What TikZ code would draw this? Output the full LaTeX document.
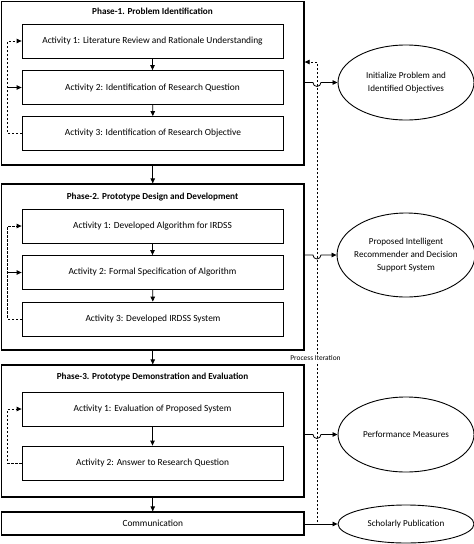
\documentclass[tikz,border=0pt]{standalone}
\usepackage{fontspec}
\setmainfont{Carlito}
\usetikzlibrary{arrows.meta,calc,shapes.geometric}
\begin{document}
\begin{tikzpicture}[x=1pt,y=-1pt,
  phasebox/.style={draw,line width=1.3pt,inner sep=0pt},
  actbox/.style={draw,line width=0.8pt,inner sep=0pt,minimum width=261pt,minimum height=34pt,font=\fontsize{9.4}{11}\selectfont},
  ell/.style={draw,line width=0.9pt,ellipse,inner sep=0pt,minimum width=136pt,align=center,font=\fontsize{9.1}{13.3}\selectfont},
  ttl/.style={font=\bfseries\fontsize{9.2}{11}\selectfont},
  arr/.style={line width=0.8pt,-{Triangle[length=5pt,width=4.5pt]}},
  dashln/.style={line width=0.8pt,dash pattern=on 2.5pt off 1.5pt}
]
\useasboundingbox (0,0) rectangle (474,544);
% phase boxes
\node[phasebox,minimum width=302.5pt,minimum height=163.5pt] (p1) at (152.75,83.25) {};
\node[phasebox,minimum width=302.5pt,minimum height=166pt] (p2) at (152.75,267) {};
\node[phasebox,minimum width=302.5pt,minimum height=132pt] (p3) at (152.75,431) {};
\node[phasebox,minimum width=302.5pt,minimum height=23pt,font=\fontsize{9.4}{11}\selectfont] (cm) at (152.75,523.5) {Communication};
% titles
\node[ttl] (t1) at (152.5,11) {Phase-1. Problem Identification};
\node[ttl] (t2) at (152.5,197) {Phase-2. Prototype Design and Development};
\node[ttl] (t3) at (152.5,377) {Phase-3. Prototype Demonstration and Evaluation};
% activities
\node[actbox] (a11) at (152.5,41) {Activity 1: Literature Review and Rationale Understanding};
\node[actbox] (a12) at (152.5,87.5) {Activity 2: Identification of Research Question};
\node[actbox] (a13) at (153,133.5) {Activity 3: Identification of Research Objective};
\node[actbox] (a21) at (152.5,226) {Activity 1: Developed Algorithm for IRDSS};
\node[actbox] (a22) at (152.5,272.5) {Activity 2: Formal Specification of Algorithm};
\node[actbox] (a23) at (153,319) {Activity 3: Developed IRDSS System};
\node[actbox] (a31) at (152.5,409) {Activity 1: Evaluation of Proposed System};
\node[actbox] (a32) at (152.5,463) {Activity 2: Answer to Research Question};
% ellipses
\node[ell,minimum height=75pt] (e1) at (406,82.5) {Initialize Problem and\\Identified Objectives};
\node[ell,minimum height=84pt,inner sep=-3pt] (e2) at (406,255) {Proposed Intelligent\\Recommender and Decision\\Support System};
\node[ell,minimum height=75pt] (e3) at (406,434.5) {Performance Measures};
\node[ell,minimum height=38pt] (e4) at (406,524) {Scholarly Publication};
% vertical arrows
\draw[arr] (a11) -- (a12);
\draw[arr] (a12) -- (a13);
\draw[arr] (a21) -- (a22);
\draw[arr] (a22) -- (a23);
\draw[arr] (a31) -- (a32);
\draw[arr] (p1) -- (p2);
\draw[arr] (p2) -- (p3);
\draw[arr] (p3) -- (cm);
% left loops
\foreach \top/\mid/\bot in {a11/a12/a13,a21/a22/a23}{
  \draw[dashln,-{Triangle[length=5pt,width=4.5pt]}] (\bot.west) -- ++(-14.5,0) |- (\top.west);
  \draw[arr] (\mid.west) ++(-14,0) -- (\mid.west);
}
\draw[dashln,-{Triangle[length=5pt,width=4.5pt]}] (a32.west) -- ++(-14,0) |- (a31.west);
% dashed iteration line
\coordinate (d0) at (317,522);
\coordinate (d1) at (317,62);
\draw[dashln,-{Triangle[length=5pt,width=4.5pt]}] (d0) -- (d1) -- (d1 -| p1.east);
\node[font=\fontsize{7.4}{8}\selectfont,fill=white,inner sep=1pt] (pi) at (315.5,358) {Process Iteration};
% connectors to ellipses with hops
\foreach \p/\e in {p1/e1,p2/e2,p3/e3}{
  \coordinate (s) at (\e.west -| \p.east);
  \draw[arr] (s) -- ++(8.3,0) arc[start angle=180,end angle=0,radius=4] -- (\e.west);
}
\draw[arr] (cm.east |- e4.west) -- (e4.west);
\end{tikzpicture}
\end{document}
